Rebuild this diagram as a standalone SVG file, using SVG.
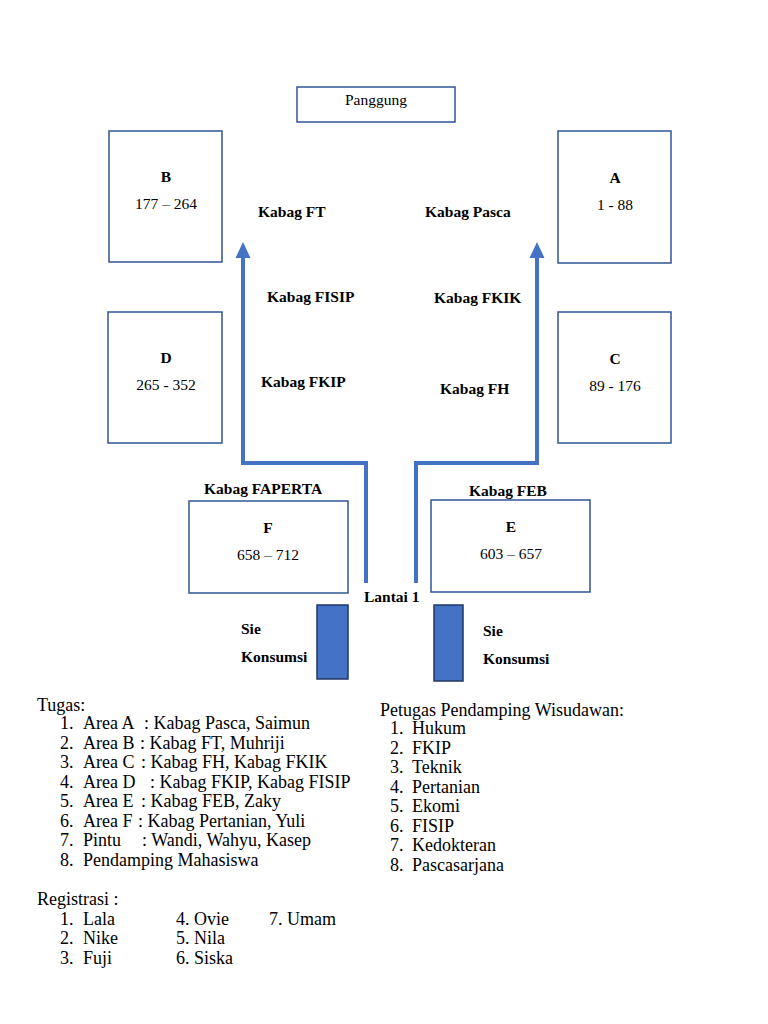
<svg xmlns="http://www.w3.org/2000/svg" width="768" height="1024" viewBox="0 0 768 1024">
<style>
.box{fill:#fff;stroke:#2f5597;stroke-width:1.5}
.blk{fill:#4472c4;stroke:#1f3864;stroke-width:1.5}
.t{font-family:"Liberation Serif","Times New Roman",serif;fill:#000}
.b{font-weight:bold;font-size:15.5px}
.n{font-size:15.5px}
.c{text-anchor:middle}
.l{font-size:18px}
.conn{fill:none;stroke:#4472c4;stroke-width:4}
</style>
<rect width="768" height="1024" fill="#fff"/>
<g id="connectors">
<path class="conn" d="M366,583 V463 H243 V256"/>
<polygon points="243,242 235.5,258 250.5,258" fill="#4472c4"/>
<path class="conn" d="M416,583 V463 H537 V256"/>
<polygon points="537,242 529.5,258 544.5,258" fill="#4472c4"/>
</g>
<g id="panggung">
<rect class="box" x="297" y="87" width="158" height="35"/>
<text class="t n c" x="376" y="105">Panggung</text>
</g>
<g id="areaB">
<rect class="box" x="109" y="131" width="113" height="131"/>
<text class="t b c" x="166" y="182">B</text>
<text class="t n c" x="166" y="209">177 – 264</text>
</g>
<g id="areaA">
<rect class="box" x="558" y="131" width="113" height="132"/>
<text class="t b c" x="615" y="183">A</text>
<text class="t n c" x="615" y="210">1 - 88</text>
</g>
<g id="areaD">
<rect class="box" x="108" y="312" width="114" height="131"/>
<text class="t b c" x="166" y="363">D</text>
<text class="t n c" x="166" y="390">265 - 352</text>
</g>
<g id="areaC">
<rect class="box" x="558" y="312" width="113" height="131"/>
<text class="t b c" x="615" y="364">C</text>
<text class="t n c" x="615" y="391">89 - 176</text>
</g>
<g id="areaF">
<rect class="box" x="189" y="501" width="159" height="92"/>
<text class="t b c" x="268" y="533">F</text>
<text class="t n c" x="268" y="560">658 – 712</text>
</g>
<g id="areaE">
<rect class="box" x="431" y="500" width="159" height="92"/>
<text class="t b c" x="511" y="532">E</text>
<text class="t n c" x="511" y="559">603 – 657</text>
</g>
<g id="konsumsiL">
<rect class="blk" x="317" y="605" width="31" height="74"/>
</g>
<g id="konsumsiR">
<rect class="blk" x="434" y="605" width="29" height="76"/>
</g>
<g id="labels">
<text class="t b" x="258" y="217">Kabag FT</text>
<text class="t b" x="425" y="217">Kabag Pasca</text>
<text class="t b" x="267" y="302">Kabag FISIP</text>
<text class="t b" x="434" y="303">Kabag FKIK</text>
<text class="t b" x="261" y="387">Kabag FKIP</text>
<text class="t b" x="440" y="394">Kabag FH</text>
<text class="t b" x="204" y="494">Kabag FAPERTA</text>
<text class="t b" x="469" y="496">Kabag FEB</text>
<text class="t b" x="364" y="602">Lantai 1</text>
<text class="t b" x="241" y="634">Sie</text>
<text class="t b" x="241" y="662">Konsumsi</text>
<text class="t b" x="483" y="636">Sie</text>
<text class="t b" x="483" y="664">Konsumsi</text>
</g>
<g id="tugas" class="t l">
<text x="37" y="711">Tugas:</text>
<text x="60" y="729">1.</text><text x="83" y="729">Area A</text><text x="144" y="729">: Kabag Pasca, Saimun</text>
<text x="60" y="749">2.</text><text x="83" y="749">Area B</text><text x="140" y="749">: Kabag FT, Muhriji</text>
<text x="60" y="768">3.</text><text x="83" y="768">Area C</text><text x="141" y="768">: Kabag FH, Kabag FKIK</text>
<text x="60" y="788">4.</text><text x="83" y="788">Area D</text><text x="150" y="788">: Kabag FKIP, Kabag FISIP</text>
<text x="60" y="807">5.</text><text x="83" y="807">Area E</text><text x="141" y="807">: Kabag FEB, Zaky</text>
<text x="60" y="827">6.</text><text x="83" y="827">Area F</text><text x="138" y="827">: Kabag Pertanian, Yuli</text>
<text x="60" y="846">7.</text><text x="83" y="846">Pintu</text><text x="142" y="846">: Wandi, Wahyu, Kasep</text>
<text x="60" y="866">8.</text><text x="83" y="866">Pendamping Mahasiswa</text>
</g>
<g id="petugas" class="t l">
<text x="380" y="716">Petugas Pendamping Wisudawan:</text>
<text x="390" y="734">1.</text><text x="412" y="734">Hukum</text>
<text x="390" y="754">2.</text><text x="412" y="754">FKIP</text>
<text x="390" y="773">3.</text><text x="412" y="773">Teknik</text>
<text x="390" y="793">4.</text><text x="412" y="793">Pertanian</text>
<text x="390" y="812">5.</text><text x="412" y="812">Ekomi</text>
<text x="390" y="832">6.</text><text x="412" y="832">FISIP</text>
<text x="390" y="851">7.</text><text x="412" y="851">Kedokteran</text>
<text x="390" y="871">8.</text><text x="412" y="871">Pascasarjana</text>
</g>
<g id="registrasi" class="t l">
<text x="37" y="905">Registrasi :</text>
<text x="60" y="925">1.</text><text x="83" y="925">Lala</text>
<text x="60" y="944">2.</text><text x="83" y="944">Nike</text>
<text x="60" y="964">3.</text><text x="83" y="964">Fuji</text>
<text x="176" y="925">4. Ovie</text>
<text x="176" y="944">5. Nila</text>
<text x="176" y="964">6. Siska</text>
<text x="269" y="925">7. Umam</text>
</g>
</svg>
